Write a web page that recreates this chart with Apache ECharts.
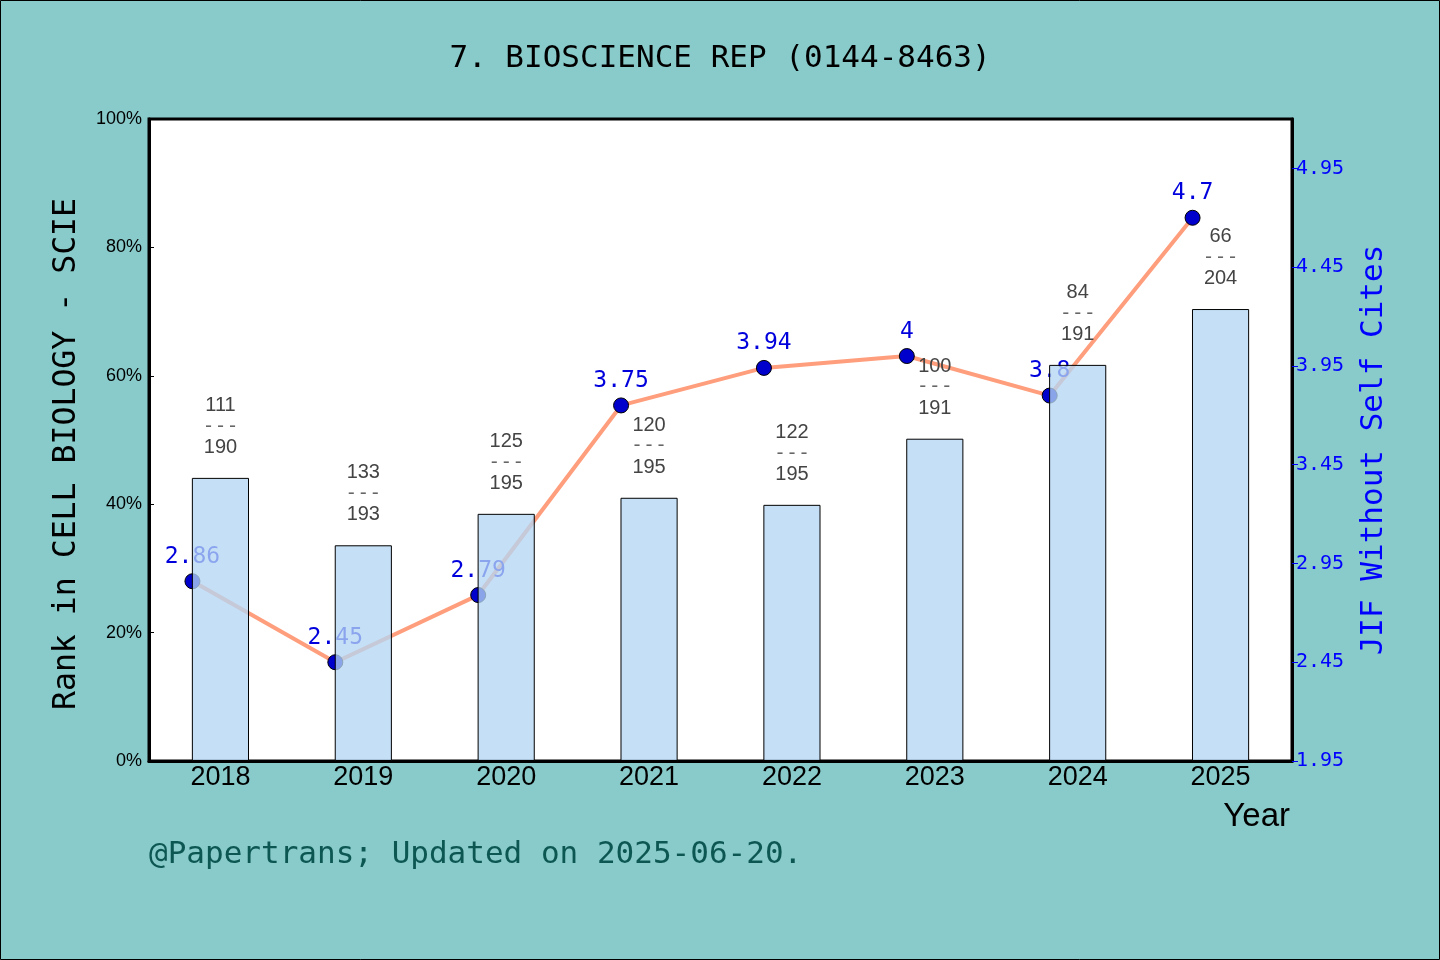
<!DOCTYPE html>
<html>
<head>
<meta charset="utf-8">
<script src="https://cdn.jsdelivr.net/npm/echarts@6/dist/echarts.min.js"></script>
<style>
html, body { margin: 0; padding: 0; background: #88cbca; }
#main { width: 1440px; height: 960px; }
</style>
</head>
<body>
<div id="main"></div>
<script>
// 期刊分区历史图：柱=分区百分位，线=JIF（不含自引）
var years = ['2018', '2019', '2020', '2021', '2022', '2023', '2024', '2025'];
var rankPct = [44.1, 33.6, 38.5, 41.0, 39.9, 50.2, 61.7, 70.4];
var rankNo = [111, 133, 125, 120, 122, 100, 84, 66];
var rankTotal = [190, 193, 195, 195, 195, 191, 191, 204];
var jifNoSelf = [2.86, 2.45, 2.79, 3.75, 3.94, 4, 3.8, 4.7];
var leftTicks = [0, 100, 20];          // min, max, interval
var rightTicks = [1.95, 5.2, 0.5];     // min, max, interval

var mono = "'DejaVu Sans Mono', 'Liberation Mono', monospace";
var sans = "'Liberation Sans', Arial, sans-serif";

// 折线点落在柱子左边缘：第二个网格整体左移半个柱宽
var barShift = 28;

var chart = echarts.init(document.getElementById('main'));

var option = {
	backgroundColor : '#88cbca',
	animation : false,
	title : {
		text : '7. BIOSCIENCE REP (0144-8463)',
		left : 'center',
		top : 38,
		textStyle : {
			fontFamily : mono,
			fontSize : 31,
			fontWeight : 'normal',
			color : '#000'
		}
	},
	grid : [{
		left : 149,
		right : 148,
		top : 119,
		bottom : 199,
		show : true,
		backgroundColor : '#fff',
		borderColor : '#000',
		borderWidth : 3
	}, {
		left : 149 - barShift,
		right : 148 + barShift,
		top : 119,
		bottom : 199,
		show : false
	}],
	xAxis : [{
		type : 'category',
		gridIndex : 0,
		data : years,
		boundaryGap : true,
		axisLine : { lineStyle : { color : '#000', width : 3 } },
		axisTick : { inside : true, length : 5, interval : 0, lineStyle : { color : '#000', width : 1 } },
		axisLabel : { fontFamily : sans, fontSize : 27, color : '#000', margin : 3, interval : 0 },
		splitLine : { show : false }
	}, {
		type : 'category',
		gridIndex : 1,
		data : years,
		boundaryGap : true,
		show : false
	}],
	yAxis : [{
		type : 'value',
		gridIndex : 0,
		min : leftTicks[0],
		max : leftTicks[1],
		interval : leftTicks[2],
		axisLine : { show : true, lineStyle : { color : '#000', width : 3 } },
		axisTick : { show : true, inside : true, length : 5, lineStyle : { color : '#000', width : 1 } },
		axisLabel : { formatter : '{value}%', fontFamily : sans, fontSize : 18, color : '#000', margin : 7 },
		splitLine : { show : false }
	}, {
		type : 'value',
		gridIndex : 0,
		position : 'right',
		min : rightTicks[0],
		max : rightTicks[1],
		interval : rightTicks[2],
		axisLine : { show : true, lineStyle : { color : '#000', width : 3 } },
		axisTick : { show : true, inside : false, length : 6, lineStyle : { color : '#0000ff', width : 1 } },
		axisLabel : {
			showMaxLabel : false,
			fontFamily : mono,
			fontSize : 20,
			color : '#0000ff',
			margin : 4,
			formatter : function(v) {
				return v.toFixed(2);
			}
		},
		splitLine : { show : false }
	}, {
		type : 'value',
		gridIndex : 1,
		min : rightTicks[0],
		max : rightTicks[1],
		interval : rightTicks[2],
		show : false,
		splitLine : { show : false }
	}],
	graphic : [{
		type : 'rect',
		silent : true,
		z : 100,
		shape : { x : 0.5, y : 0.5, width : 1439, height : 959 },
		style : { fill : 'none', stroke : '#000', lineWidth : 1 }
	}, {
		type : 'text',
		x : 67,
		y : 454,
		rotation : Math.PI / 2,
		style : {
			text : 'Rank in CELL BIOLOGY - SCIE',
			fontFamily : mono,
			fontSize : 31.5,
			fill : '#000',
			align : 'center',
			verticalAlign : 'middle'
		}
	}, {
		type : 'text',
		x : 1374,
		y : 450,
		rotation : Math.PI / 2,
		style : {
			text : 'JIF Without Self Cites',
			fontFamily : mono,
			fontSize : 31,
			fill : '#0000ff',
			align : 'center',
			verticalAlign : 'middle'
		}
	}, {
		type : 'text',
		x : 1290,
		y : 817,
		style : {
			text : 'Year',
			fontFamily : sans,
			fontSize : 33,
			fill : '#000',
			align : 'right',
			verticalAlign : 'middle'
		}
	}, {
		type : 'text',
		x : 149,
		y : 855,
		style : {
			text : '@Papertrans; Updated on 2025-06-20.',
			fontFamily : mono,
			fontSize : 31,
			fill : '#0d5753',
			align : 'left',
			verticalAlign : 'middle'
		}
	}],
	series : [{
		name : 'JIF Without Self Cites',
		type : 'line',
		xAxisIndex : 1,
		yAxisIndex : 2,
		z : 2,
		clip : false,
		data : jifNoSelf,
		symbol : 'circle',
		symbolSize : 15,
		lineStyle : { color : '#ff9e7c', width : 4 },
		itemStyle : { color : '#0000cc', borderColor : '#000', borderWidth : 1 },
		label : {
			show : true,
			position : 'top',
			distance : 5,
			fontFamily : mono,
			fontSize : 23,
			color : '#0000dd'
		}
	}, {
		name : 'Rank',
		type : 'bar',
		xAxisIndex : 0,
		yAxisIndex : 0,
		z : 3,
		barWidth : '40%',
		data : rankPct,
		itemStyle : {
			color : 'rgba(179,214,243,0.77)',
			borderColor : '#000',
			borderWidth : 1
		},
		label : {
			show : true,
			position : 'top',
			distance : 20,
			formatter : function(p) {
				return '{n|' + rankNo[p.dataIndex] + '}\n{d|---}\n{n|' + rankTotal[p.dataIndex] + '}';
			},
			rich : {
				n : { fontFamily : sans, fontSize : 20, color : '#444', lineHeight : 21 },
				d : { fontFamily : mono, fontSize : 20, color : '#666', lineHeight : 21 }
			}
		}
	}]
};

chart.setOption(option);
</script>
</body>
</html>
